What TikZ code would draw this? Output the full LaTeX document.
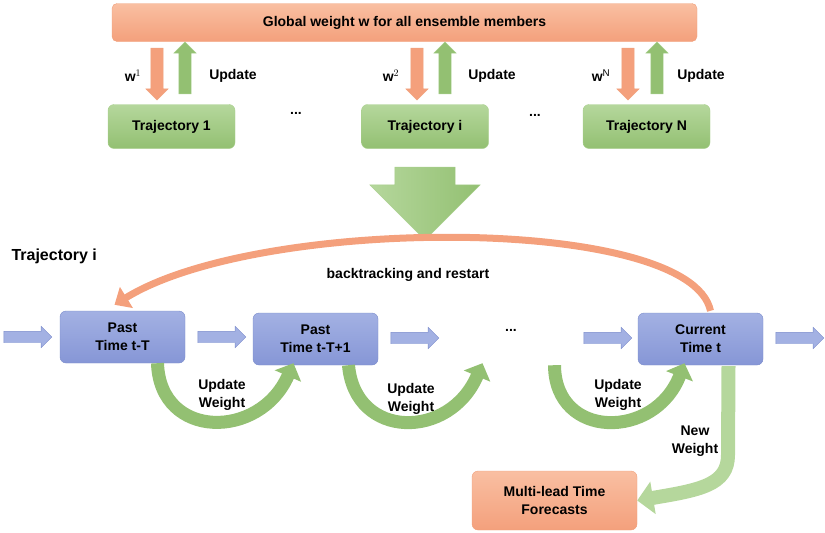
\documentclass[tikz,border=0pt]{standalone}
\usepackage{fontspec}
\setmainfont{Liberation Sans}
\usetikzlibrary{shapes.arrows,arrows.meta,calc}
\definecolor{blF}{HTML}{A3B1E3}\definecolor{blD}{HTML}{8696D6}\definecolor{blB}{HTML}{7B8CCB}
\definecolor{grF}{HTML}{B5D79C}\definecolor{grD}{HTML}{93C072}\definecolor{grB}{HTML}{A8CF8C}
\definecolor{orF}{HTML}{F9BFA2}\definecolor{orD}{HTML}{F4A07C}\definecolor{orB}{HTML}{F0A07C}
\tikzset{
 x=1pt,y=-1pt,
 txt/.style={font=\fontsize{14}{18}\selectfont\bfseries},
 box/.style={rounded corners=6pt,minimum height=44pt,align=center,txt},
 bbox/.style={box,draw=blB,top color=blF,bottom color=blD,minimum width=125pt,minimum height=52pt},
 gbox/.style={box,draw=grB,top color=grF,bottom color=grD,minimum width=127pt},
 obox/.style={box,draw=orB,top color=orF,bottom color=orD},
 sarr/.style={single arrow,draw=blB,fill=blF,inner xsep=0pt,inner ysep=5.5pt,single arrow head extend=5pt,minimum height=48pt},
 oarr/.style={single arrow,draw=orB,fill=orD,inner xsep=0pt,inner ysep=6pt,single arrow head extend=5pt,minimum height=52pt,rotate=-90},
 garr/.style={single arrow,draw=grB,fill=grD,inner xsep=0pt,inner ysep=6pt,single arrow head extend=5pt,minimum height=52pt,rotate=90},
 curv/.style={line width=13pt,draw=grD,-{Triangle[width=28pt,length=14pt]}},
}
\begin{document}
\begin{tikzpicture}
\useasboundingbox (0,0) rectangle (825,533);
\node[obox,minimum width=585pt,minimum height=38pt,rounded corners=5pt] (top) at (404.5,22.5) {Global weight w for all ensemble members};
\node[oarr] (d1) at (157,71) {};
\node[garr] (u1) at (185,71) {};
\node[oarr] (d2) at (417,71) {};
\node[garr] (u2) at (445,71) {};
\node[oarr] (d3) at (628,71) {};
\node[garr] (u3) at (657,71) {};
\node[txt] (w1) at (133,76) {w$^{1}$};
\node[txt] (w2) at (391,76) {w$^{2}$};
\node[txt] (w3) at (601,76) {w$^{\mathrm{N}}$};
\node[txt] (l1) at (233,76) {Update};
\node[txt] (l2) at (492,76) {Update};
\node[txt] (l3) at (701,76) {Update};
\node[gbox] (t1) at (171.5,126.5) {Trajectory 1};
\node[gbox] (ti) at (425,126.5) {Trajectory i};
\node[gbox] (tn) at (646.5,126.5) {Trajectory N};
\node[txt] (e1) at (296,113) {...};
\node[txt] (e2) at (535,115) {...};
\node[single arrow,draw=grB,inner xsep=0pt,inner ysep=30pt,single arrow head extend=25pt,minimum height=73pt,rotate=-90,left color=grF,right color=grD] (big) at (425,188.5) {};
\node[txt,font=\fontsize{16}{18}\selectfont\bfseries,anchor=west] (tr) at (8,256) {Trajectory i};
\node[txt] (bt) at (408,275) {backtracking and restart};
\node[bbox] (p1) at (122.5,337) {Past\\Time t-T};
\node[bbox] (p2) at (315.5,339) {Past\\Time t-T+1};
\node[bbox] (cu) at (700.5,339) {Current\\Time t};
\node[txt] (e3) at (511,330) {...};
\node[sarr] (a0) at (25,337) {};
\node[sarr] (a1) at (219,337) {};
\node[sarr] (a2) at (412,338) {};
\node[sarr] (a3) at (605,338) {};
\node[sarr] (a4) at (797,338) {};
\draw[line width=7pt,-{Triangle[width=24pt,length=14pt]},draw=orD]
  ($(cu.north)+(10,-2)$) .. controls (690,215) and (260,215) .. ($(p1.north)+(-8,-6)$);
\draw[curv] ($(p1.south)+(35,0)$) .. controls (160,440) and (260,440) .. ($(p2.south)+(-22,-2)$);
\draw[curv] ($(p2.south)+(33,0)$) .. controls (355,440) and (450,440) .. ($(p2.south)+(167,-2)$);
\draw[curv] ($(cu.south)+(-146,0)$) .. controls (555,440) and (655,440) .. ($(cu.south)+(-16,-2)$);
\node[txt,align=center] (uw1) at (222,395) {Update\\Weight};
\node[txt,align=center] (uw2) at (411,399) {Update\\Weight};
\node[txt,align=center] (uw3) at (618,395) {Update\\Weight};
\node[obox,minimum width=165pt,minimum height=59pt] (fc) at (554.5,500.5) {Multi-lead Time\\Forecasts};
\draw[line width=14pt,draw=grF,-{Triangle[width=32pt,length=16pt]}] ($(cu.south)+(28,1)$) -- (728,455) .. controls (728,485) and (700,490) .. (fc.east);
\node[txt,align=center] (nw) at (695,441) {New\\Weight};
\end{tikzpicture}
\end{document}
